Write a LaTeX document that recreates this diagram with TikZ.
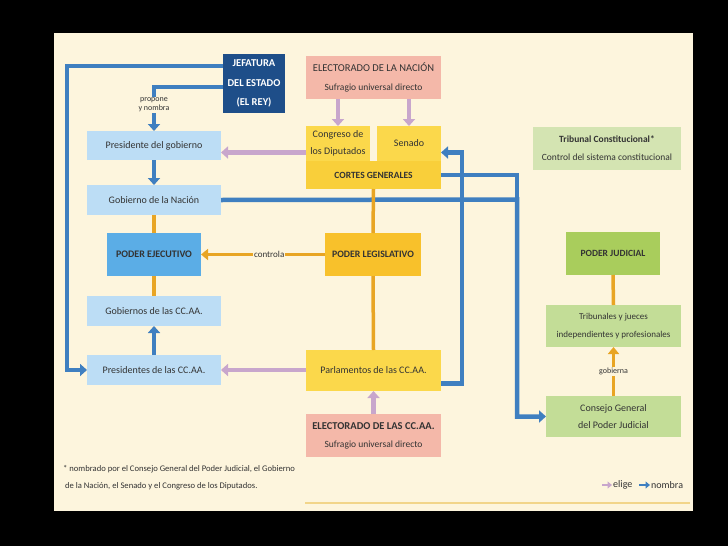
\documentclass[tikz,border=0pt]{standalone}
\usepackage{fontspec}
\setmainfont{Carlito}
\usetikzlibrary{arrows.meta}

\definecolor{crema}{HTML}{FDF5DD}
\definecolor{texto}{HTML}{333333}
\definecolor{azulclaro}{HTML}{BCDDF5}
\definecolor{azulmedio}{HTML}{5BADE6}
\definecolor{azulrey}{HTML}{1E4E89}
\definecolor{rosa}{HTML}{F4B8A9}
\definecolor{amarillo}{HTML}{FBD84B}
\definecolor{amarillocortes}{HTML}{F9CF3A}
\definecolor{amarillopoder}{HTML}{F8C12B}
\definecolor{verdeclaro}{HTML}{D4E4B2}
\definecolor{verdemedio}{HTML}{C3DD97}
\definecolor{verdepoder}{HTML}{A9CD5C}
\definecolor{azulflecha}{HTML}{3F7FC0}
\definecolor{lila}{HTML}{C8A6CC}
\definecolor{naranja}{HTML}{E8A524}
\definecolor{dorado}{HTML}{F2D58A}

\begin{document}
\begin{tikzpicture}[x=1pt, y=-1pt,
    caja/.style={anchor=north west, inner sep=0pt, outer sep=0pt, align=center,
        text=texto, font=\fontsize{10}{18}\selectfont},
    nombraline/.style={draw=azulflecha, line width=4.5pt},
    nombra/.style={nombraline, -{Triangle[width=12pt,length=7pt]}},
    elige/.style={draw=lila, line width=4.5pt, -{Triangle[width=12pt,length=7pt]}},
    poder/.style={draw=naranja, line width=3.5pt},
    etiqueta/.style={fill=crema, inner sep=1pt, text=texto, align=center,
        font=\fontsize{8}{9}\selectfont}]
    \useasboundingbox (0,0) rectangle (728,546);
    \fill[black] (0,0) rectangle (728,546);
    \fill[crema] (54,33) rectangle (693,511);
    \draw[dorado, line width=1.5pt] (305,503) -- (690,503);

    % JEFATURA Y ELECTORADO
    \node[caja, fill=azulrey, text=white, minimum width=62, minimum height=59,
        font=\fontsize{10.5}{19.5}\selectfont\bfseries] (jefe) at (223,54)
        {JEFATURA\\DEL ESTADO\\(EL REY)};
    \node[caja, fill=rosa, minimum width=135, minimum height=43,
        font=\fontsize{10.5}{18.5}\selectfont] (elecnac) at (306,56)
        {ELECTORADO DE LA NACIÓN\\{\fontsize{9.5}{18.5}\selectfont Sufragio universal directo}};

    % CORTES GENERALES
    \node[caja, fill=amarillo, minimum width=64, minimum height=35,
        font=\fontsize{10}{17}\selectfont] (congreso) at (306,126)
        {Congreso de\\los Diputados};
    \node[caja, fill=amarillo, minimum width=64, minimum height=35] (senado) at (377,126)
        {Senado};
    \node[caja, fill=amarillocortes, minimum width=135, minimum height=28,
        font=\fontsize{9.5}{12}\selectfont\bfseries] (cortes) at (306,161) {CORTES GENERALES};

    % EJECUTIVO
    \node[caja, fill=azulclaro, minimum width=134, minimum height=29] (presgob) at (87,131)
        {Presidente del gobierno};
    \node[caja, fill=azulclaro, minimum width=134, minimum height=30] (gobnac) at (87,185)
        {Gobierno de la Nación};
    \node[caja, fill=azulmedio, minimum width=94, minimum height=43,
        font=\fontsize{10}{12}\selectfont\bfseries] (ejec) at (107,233) {PODER EJECUTIVO};
    \node[caja, fill=azulclaro, minimum width=134, minimum height=30] (gobcc) at (87,296)
        {Gobiernos de las CC.AA.};
    \node[caja, fill=azulclaro, minimum width=134, minimum height=30] (prescc) at (87,355)
        {Presidentes de las CC.AA.};

    % LEGISLATIVO
    \node[caja, fill=amarillopoder, minimum width=96, minimum height=43,
        font=\fontsize{9.8}{12}\selectfont\bfseries] (legis) at (325,233) {PODER LEGISLATIVO};
    \node[caja, fill=amarillo, minimum width=135, minimum height=41] (parlcc) at (306,350)
        {Parlamentos de las CC.AA.};
    \node[caja, fill=rosa, minimum width=135, minimum height=43,
        font=\fontsize{10.5}{18}\selectfont] (eleccc) at (306,414)
        {\textbf{ELECTORADO DE LAS CC.AA.}\\{\fontsize{9.5}{18}\selectfont Sufragio universal directo}};

    % JUDICIAL
    \node[caja, fill=verdeclaro, minimum width=148, minimum height=43,
        font=\fontsize{9.5}{18}\selectfont] (tribconst) at (533,127)
        {\textbf{Tribunal Constitucional*}\\Control del sistema constitucional};
    \node[caja, fill=verdepoder, minimum width=94, minimum height=43,
        font=\fontsize{9.5}{12}\selectfont\bfseries] (judicial) at (566,232) {PODER JUDICIAL};
    \node[caja, fill=verdemedio, minimum width=135, minimum height=42,
        font=\fontsize{9}{18}\selectfont] (tribunales) at (546,305)
        {Tribunales y jueces\\independientes y profesionales};
    \node[caja, fill=verdemedio, minimum width=135, minimum height=41,
        font=\fontsize{10}{17}\selectfont] (consejo) at (546,396)
        {Consejo General\\del Poder Judicial};

    % NOMBRA (azul)
    \coordinate (cruce) at (517,199.5);
    \draw[nombra] (jefe.west |- 0,66) -| ([xshift=-20pt]prescc.west) -- (prescc.west);
    \draw[nombra] (jefe.west |- 0,87) -| (presgob.north)
        node[etiqueta, pos=0.7] {propone\\y nombra};
    \draw[nombra] (presgob.south) -- (gobnac.north);
    \draw[nombra] (prescc.north) -- (gobcc.south);
    \draw[nombraline] (cortes.east) -| (cruce);
    \draw[nombra] (gobnac.east) -- (cruce) |- (consejo.west);
    \draw[nombra] ([yshift=-13pt]parlcc.east) -| ([xshift=21pt,yshift=-9pt]senado.east)
        -- ([yshift=-9pt]senado.east);

    % ELIGE (lila)
    \draw[elige] (congreso.north |- elecnac.south) -- (congreso.north);
    \draw[elige] (senado.north |- elecnac.south) -- (senado.north);
    \draw[elige] ([yshift=-7pt]congreso.west |- presgob.east) -- ([yshift=-7pt]presgob.east);
    \draw[elige] (parlcc.west |- prescc.east) -- (prescc.east);
    \draw[elige] (eleccc.north) -- (parlcc.south);

    % PODERES (naranja)
    \draw[poder] (gobnac.south) -- (ejec.north);
    \draw[poder] (ejec.south) -- (gobcc.north);
    \draw[poder] (cortes.south) -- (legis.north);
    \draw[poder] (legis.south) -- (parlcc.north);
    \draw[poder, -{Triangle[width=11pt,length=7pt]}] (legis.west) -- (ejec.east)
        node[etiqueta, pos=0.45, font=\fontsize{9}{10}\selectfont] {controla};
    \draw[poder] (tribunales.north) -- (judicial.south);
    \draw[poder, -{Triangle[width=11pt,length=7pt]}] (consejo.north) -- (tribunales.south)
        node[etiqueta, midway] {gobierna};

    % NOTA Y LEYENDA
    \node[anchor=north west, align=left, text=texto, inner sep=0pt,
        font=\fontsize{8.6}{17}\selectfont] (nota) at (63,465)
        {* nombrado por el Consejo General del Poder Judicial, el Gobierno\\
        \ de la Nación, el Senado y el Congreso de los Diputados.};
    \node[anchor=west, text=texto, inner sep=0pt, font=\fontsize{10}{11}\selectfont]
        (leyelige) at (613,485) {elige};
    \node[anchor=west, text=texto, inner sep=0pt, font=\fontsize{10}{11}\selectfont]
        (leynombra) at (651,485) {nombra};
    \draw[lila, line width=2.5pt, -{Triangle[width=7pt,length=4.5pt]}]
        ([xshift=-11pt]leyelige.west) -- ([xshift=-1pt]leyelige.west);
    \draw[azulflecha, line width=2.5pt, -{Triangle[width=7pt,length=4.5pt]}]
        ([xshift=-12pt]leynombra.west) -- ([xshift=-1pt]leynombra.west);
\end{tikzpicture}
\end{document}
